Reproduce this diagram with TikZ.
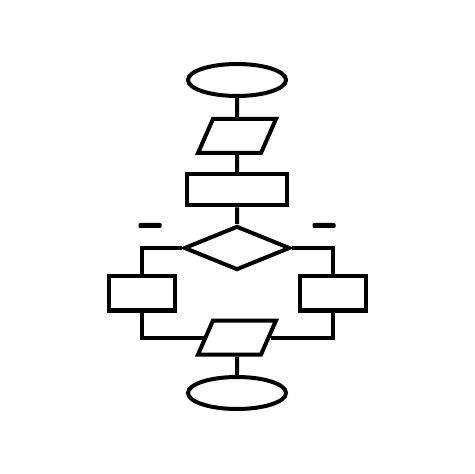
\documentclass[tikz,border=0pt]{standalone}
\usetikzlibrary{shapes.geometric}

\tikzset{
  chart/.style={draw,line width=2pt,inner sep=0pt},
  term/.style={chart,ellipse,minimum width=49pt,minimum height=16pt},
  io/.style={chart,rectangle,xslant=0.44,transform shape,minimum width=31.5pt,minimum height=17pt},
  proc/.style={chart,rectangle,minimum width=50pt,minimum height=15.5pt},
  side/.style={chart,rectangle,minimum width=33pt,minimum height=17pt},
  cond/.style={chart,diamond,minimum width=53pt,minimum height=22pt},
  flow/.style={line width=2pt},
  minusbar/.style={fill=black,rounded corners=0.6pt,minimum width=11.5pt,minimum height=2.5pt,inner sep=0pt}
}

\begin{document}
\begin{tikzpicture}[x=0.5pt,y=-0.5pt]
  \useasboundingbox (0,0) rectangle (474,474);
  % main column
  \node[term] (start) at (237,80) {};
  \node[io] (inA) at (237,136) {};
  \node[proc] (calc) at (237,190) {};
  \node[cond] (test) at (237,248) {};
  % branches
  \node[side] (left) at (142,293.5) {};
  \node[side] (right) at (333,293.5) {};
  \node[minusbar] (minusL) at (150,225.5) {};
  \node[minusbar] (minusR) at (324,225.5) {};
  % bottom
  \node[io] (inB) at (237,337.5) {};
  \node[term] (stop) at (237,393) {};
  % connectors
  \draw[flow] (start) -- (inA) (inA) -- (calc) (calc) -- (test);
  \draw[flow] (test.west) -| (left.north);
  \draw[flow] (test.east) -| (right.north);
  \draw[flow] (left.south) |- (inB.west);
  \draw[flow] (right.south) |- (inB.east);
  \draw[flow] (inB) -- (stop);
\end{tikzpicture}
\end{document}
